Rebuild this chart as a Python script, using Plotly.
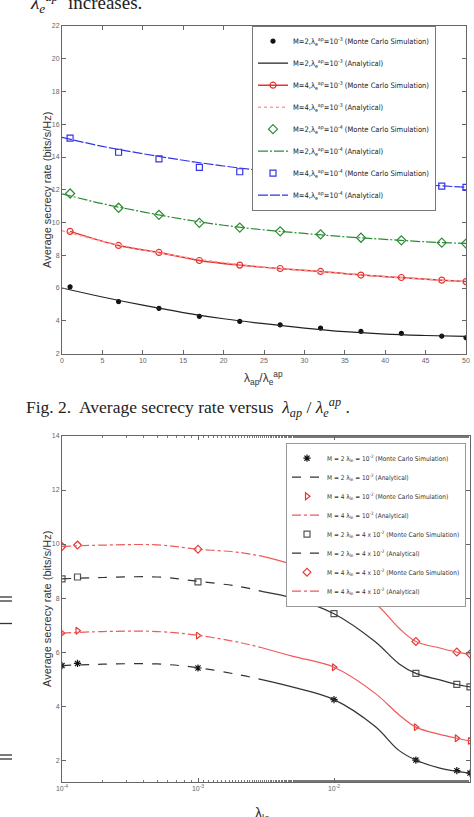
import plotly.graph_objects as go

# ---- datos figura superior (Fig. 2) ----
x_mc = [1, 7, 12, 17, 22, 27, 32, 37, 42, 47, 50]
x_an = [0, 5, 10, 15, 20, 25, 30, 35, 40, 45, 50]

m2_e3_mc = [6.07, 5.17, 4.76, 4.27, 3.96, 3.75, 3.55, 3.35, 3.23, 3.06, 2.96]
m2_e3_an = [6.0, 5.45, 4.95, 4.5, 4.12, 3.82, 3.55, 3.33, 3.18, 3.1, 3.05]
m4_e3_mc = [9.46, 8.60, 8.17, 7.68, 7.40, 7.19, 7.01, 6.79, 6.64, 6.48, 6.39]
m4_e3_an = [9.5, 8.85, 8.35, 7.9, 7.55, 7.28, 7.07, 6.88, 6.7, 6.53, 6.4]
m2_e4_mc = [11.77, 10.90, 10.47, 9.98, 9.69, 9.46, 9.28, 9.07, 8.91, 8.77, 8.71]
m2_e4_an = [11.75, 11.15, 10.65, 10.2, 9.83, 9.55, 9.33, 9.13, 8.97, 8.82, 8.72]
m4_e4_mc = [15.15, 14.29, 13.88, 13.37, 13.10, 12.9, 12.7, 12.5, 12.35, 12.22, 12.14]
m4_e4_an = [15.2, 14.65, 14.2, 13.8, 13.45, 13.15, 12.9, 12.68, 12.48, 12.3, 12.15]

# ---- datos figura inferior ----
xb_mc = [1e-4, 1.3e-4, 1e-3, 1e-2, 4e-2, 8e-2, 1e-1]
xb_an = [1e-4, 2e-4, 5e-4, 1e-3, 2e-3, 3e-3, 5e-3, 1e-2, 2e-2, 3e-2, 4e-2, 6e-2, 8e-2, 1e-1]

b_m2_a_mc = [5.50, 5.58, 5.41, 4.24, 2.0, 1.61, 1.52]
b_m2_a_an = [5.50, 5.55, 5.56, 5.42, 5.16, 4.97, 4.70, 4.24, 3.25, 2.36, 2.0, 1.70, 1.58, 1.52]
b_m4_a_mc = [6.70, 6.79, 6.61, 5.44, 3.22, 2.81, 2.71]
b_m4_a_an = [6.70, 6.76, 6.76, 6.62, 6.36, 6.15, 5.84, 5.44, 4.48, 3.68, 3.22, 2.95, 2.81, 2.71]
b_m2_b_mc = [8.71, 8.78, 8.60, 7.42, 5.21, 4.80, 4.71]
b_m2_b_an = [8.71, 8.76, 8.78, 8.62, 8.43, 8.24, 8.0, 7.42, 6.39, 5.57, 5.21, 4.97, 4.80, 4.71]
b_m4_b_mc = [9.91, 9.96, 9.81, 8.63, 6.39, 6.0, 5.93]
b_m4_b_an = [9.91, 9.96, 9.97, 9.81, 9.69, 9.54, 9.23, 8.63, 7.81, 6.89, 6.39, 6.15, 6.0, 5.93]

xb_ticks = [1e-4, 1e-3, 1e-2, 1e-1]
xb_ticktext = ["10<sup>-4</sup>", "10<sup>-3</sup>", "10<sup>-2</sup>", "10<sup>-1</sup>"]

W, H = 474, 817
SPLIT = 5  # indice de 3e-3: discontinua a la izquierda, continua a la derecha

lam = "λ<sub>e</sub><sup>ap</sup>"
lab = "λ<sub>le</sub>"

fig = go.Figure()

# figura superior
top = [
    (m2_e3_mc, m2_e3_an, "10<sup>-3</sup>", "M=2", "#111111", "circle", 4, None, "#222222", "solid", 1.2),
    (m4_e3_mc, m4_e3_an, "10<sup>-3</sup>", "M=4", "#e8322e", "circle-open", 6, "#e8322e", "#f6a3a3", "dot", 1.5),
    (m2_e4_mc, m2_e4_an, "10<sup>-4</sup>", "M=2", "#2e8b35", "diamond-open", 7, None, "#2e8b35", "10px,2px,2px,2px", 1.2),
    (m4_e4_mc, m4_e4_an, "10<sup>-4</sup>", "M=4", "#3535e8", "square-open", 6, None, "#3535e8", "10px,2px", 1.2),
]
for i, (mc, an, val, m, col, sym, sz, mcline, ancol, dash, lw) in enumerate(top):
    fig.add_trace(go.Scatter(
        x=x_mc, y=mc, mode="lines+markers" if mcline else "markers",
        line=dict(color=mcline or col, width=1.5, shape="spline"),
        marker=dict(symbol=sym, size=sz, color=col, line=dict(width=1.2, color=col)),
        name=f"{m},{lam}={val} (Monte Carlo Simulation)",
        legend="legend", legendgroup=f"t{i}a", xaxis="x", yaxis="y"))
    fig.add_trace(go.Scatter(
        x=x_an, y=an, mode="lines",
        line=dict(color=ancol, width=lw, dash=dash, shape="spline"),
        name=f"{m},{lam}={val} (Analytical)",
        legend="legend", legendgroup=f"t{i}b", xaxis="x", yaxis="y"))

# figura inferior
bottom = [
    (b_m2_a_mc, b_m2_a_an, "10<sup>-2</sup>", "M = 2", "#111111", "asterisk-open", "#333333", "dash"),
    (b_m4_a_mc, b_m4_a_an, "10<sup>-2</sup>", "M = 4", "#e53935", "triangle-right-open", "#f05a5a", "dashdot"),
    (b_m2_b_mc, b_m2_b_an, "4 x 10<sup>-2</sup>", "M = 2", "#555555", "square-open", "#333333", "dash"),
    (b_m4_b_mc, b_m4_b_an, "4 x 10<sup>-2</sup>", "M = 4", "#e53935", "diamond-open", "#f05a5a", "dashdot"),
]
for i, (mc, an, val, m, col, sym, ancol, dash) in enumerate(bottom):
    fig.add_trace(go.Scatter(
        x=xb_mc, y=mc, mode="markers",
        marker=dict(symbol=sym, size=6, color=col, line=dict(width=1.2, color=col)),
        name=f"{m} {lab} = {val} (Monte Carlo Simulation)",
        legend="legend2", legendgroup=f"b{i}a", xaxis="x2", yaxis="y2"))
    fig.add_trace(go.Scatter(
        x=xb_an[:SPLIT + 1], y=an[:SPLIT + 1], mode="lines",
        line=dict(color=ancol, width=1.2, dash=dash, shape="spline"),
        name=f"{m} {lab} = {val} (Analytical)",
        legend="legend2", legendgroup=f"b{i}b", xaxis="x2", yaxis="y2"))
    fig.add_trace(go.Scatter(
        x=xb_an[SPLIT:], y=an[SPLIT:], mode="lines",
        line=dict(color=ancol, width=1.2, shape="spline"),
        showlegend=False, legendgroup=f"b{i}b", xaxis="x2", yaxis="y2"))

axis_common = dict(
    showgrid=False, zeroline=False, showline=True, linecolor="#666", linewidth=1,
    mirror="ticks", ticks="inside", ticklen=4, tickcolor="#666", automargin=False,
    tickfont=dict(size=7, color="#666", family="Liberation Sans, Arial"),
)
legend_font = "DejaVu Sans Condensed, Liberation Sans Narrow, Arial Narrow, sans-serif"

fig.update_layout(
    width=W, height=H,
    margin=dict(l=0, r=0, t=0, b=0, pad=0),
    paper_bgcolor="white", plot_bgcolor="white",
    showlegend=True,
    xaxis=dict(domain=[62 / W, 466 / W], range=[0, 50], dtick=5, anchor="y", **axis_common),
    yaxis=dict(domain=[1 - 353.5 / H, 1 - 26 / H], range=[2, 22], dtick=2, anchor="x", **axis_common),
    xaxis2=dict(domain=[62 / W, 470 / W], type="log", range=[-4, -1], anchor="y2",
                tickvals=xb_ticks, ticktext=xb_ticktext,
                minor=dict(ticks="inside", ticklen=2, tickcolor="#777", showgrid=False),
                **axis_common),
    yaxis2=dict(domain=[1 - 781.7 / H, 1 - 436 / H], range=[1.2, 14], dtick=2, anchor="x2", **axis_common),
    legend=dict(x=436 / W, y=1 - 25.7 / H, xanchor="right", yanchor="top",
                bgcolor="white", bordercolor="#777", borderwidth=1,
                font=dict(size=7.5, color="#222", family=legend_font),
                itemwidth=30, tracegroupgap=3),
    legend2=dict(x=466 / W, y=1 - 442.7 / H, xanchor="right", yanchor="top",
                 bgcolor="white", bordercolor="#999", borderwidth=1,
                 font=dict(size=6.5, color="#333", family=legend_font),
                 itemwidth=30, tracegroupgap=0),
)

ann_font = dict(family="Liberation Sans, Arial", size=11, color="#333")
serif = dict(family="Liberation Serif, Times New Roman, serif", color="#222")
annotations = [
    dict(text="Average secrecy rate (bits/s/Hz)", x=47 / W, y=1 - 190 / H, textangle=-90, font=ann_font),
    dict(text="λ<sub>ap</sub>/λ<sub>e</sub><sup>ap</sup>", x=263 / W, y=1 - 378 / H, font=dict(ann_font, size=12)),
    dict(text="Fig. 2.  Average secrecy rate versus  <i>λ<sub>ap</sub></i> / <i>λ<sub>e</sub><sup>ap</sup></i> .",
         x=24 / W, y=1 - 407 / H, xanchor="left", font=dict(serif, size=17.5)),
    dict(text="<i>λ<sub>e</sub><sup>ap</sup></i>  increases.", x=28 / W, y=1 - 2 / H, xanchor="left",
         font=dict(serif, size=19)),
    dict(text="Average secrecy rate (bits/s/Hz)", x=47 / W, y=1 - 609 / H, textangle=-90, font=ann_font),
    dict(text="λ<sub>le</sub>", x=262 / W, y=1 - 814 / H, font=dict(ann_font, size=14)),
]
for a in annotations:
    a.setdefault("xanchor", "center")
    a.update(xref="paper", yref="paper", yanchor="middle", showarrow=False)
fig.update_layout(annotations=annotations)

# marcas del margen izquierdo de la pagina escaneada
for yy in [597, 601, 623.5, 755, 759]:
    fig.add_shape(type="line", xref="paper", yref="paper", x0=0, x1=12 / W,
                  y0=1 - yy / H, y1=1 - yy / H, line=dict(color="#333", width=1.3))

# sin margen del body para que la figura empiece en (0, 0)
fig.write_html("out.html", config={"displayModeBar": False},
               post_script="document.body.style.margin='0px';")
